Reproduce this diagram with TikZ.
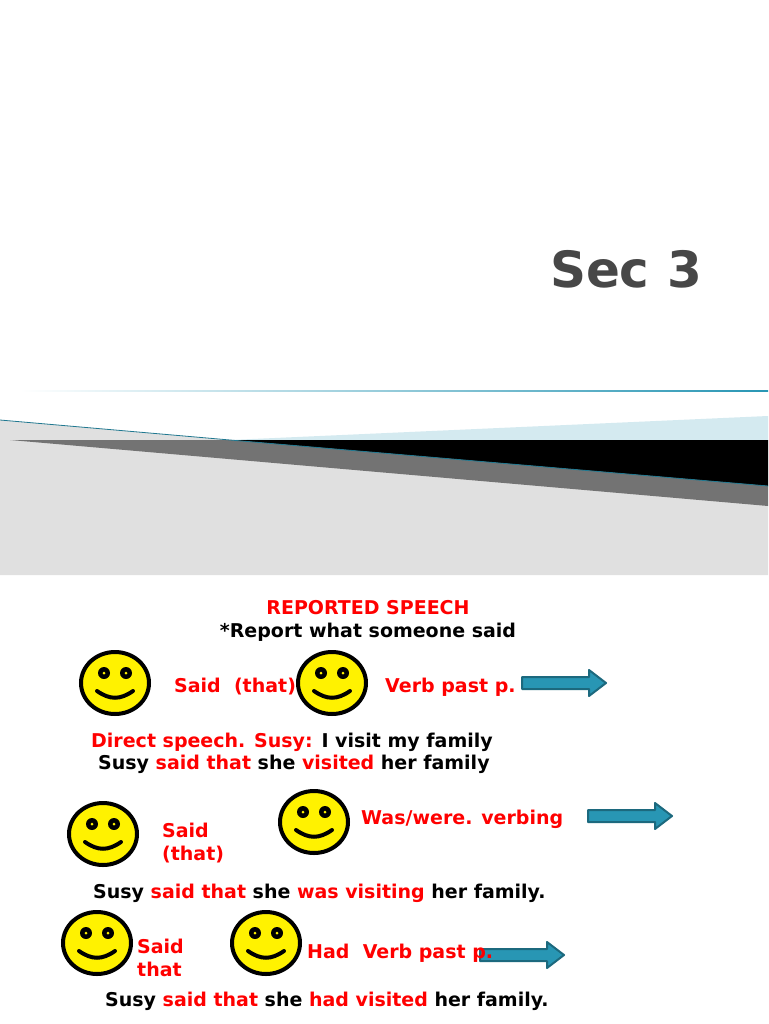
\documentclass[tikz,border=0pt]{standalone}
\usepackage{fontspec}
\setmainfont{DejaVu Sans}
\usetikzlibrary{shapes.geometric,calc}
\definecolor{rd}{RGB}{255,0,0}
\definecolor{teal1}{RGB}{40,150,180}
\definecolor{tex}{RGB}{224,224,224}
\begin{document}
\begin{tikzpicture}[x=1pt,y=-1pt,
  txt/.style={font=\bfseries\fontsize{19}{22}\selectfont,inner sep=0pt},
  arr/.style={draw=teal1!70!black,fill=teal1,line width=2pt,line join=round}]
\useasboundingbox (0,0) rectangle (768,1024);
\fill[white] (0,0) rectangle (768,1024);
\node[inner sep=0pt,font=\bfseries\fontsize{50}{55}\selectfont,text=black!72,anchor=base east] (title) at (702,287) {Sec 3};
% band
\shade[left color=white,right color=teal1] (20,390.5) rectangle (768,391.5);
\fill[tex] (0,420) -- (230,440) -- (768,440) -- (768,575) -- (0,575) -- cycle;
\fill[teal1!20] (230,440) -- (768,416) -- (768,440) -- cycle;
\fill[black] (230,440) -- (768,440) -- (768,486) -- cycle;
\fill[black!55] (10,440) -- (230,440) -- (768,486) -- (768,506) -- cycle;
\draw[teal1!80!black,line width=0.8pt] (0,420) -- (230,440) -- (768,486);
% smileys
\newcommand{\smiley}[4]{%
 \node[ellipse,draw=black,line width=4pt,fill=yellow,minimum width=#2pt,minimum height=#3pt,inner sep=0pt] (#4) at (#1) {};
 \fill[black] ($(#4)+(-11,-10)$) circle (6);
 \fill[black] ($(#4)+(11,-10)$) circle (6);
 \fill[yellow] ($(#4)+(-11,-10)$) circle (1.5);
 \fill[yellow] ($(#4)+(11,-10)$) circle (1.5);
 \draw[black,line width=4pt,line cap=round] ($(#4)+(-18,8)$) .. controls ($(#4)+(-5,17)$) and ($(#4)+(5,17)$) .. ($(#4)+(18,8)$);}
\newcommand{\barrow}[2]{%
 \coordinate (#2) at (#1);
 \draw[arr] ($(#2)+(-41,-6)$) -- ($(#2)+(26,-6)$) -- ($(#2)+(26,-13)$) -- ($(#2)+(43,0)$) -- ($(#2)+(26,13)$) -- ($(#2)+(26,6)$) -- ($(#2)+(-41,6)$) -- cycle;}
\smiley{115,683}{68}{62}{s1}
\smiley{332,683}{68}{62}{s2}
\smiley{103,834}{68}{62}{s3}
\smiley{314,822}{68}{62}{s4}
\smiley{97,943}{68}{62}{s5}
\smiley{266,943}{68}{62}{s6}
% arrows
\barrow{563,683}{a1}
\barrow{629,816}{a2}
\barrow{521,955}{a3}
% texts
\node[txt,text=rd] (h1) at (368,608) {REPORTED SPEECH};
\node[txt] (h2) at (368,632) {*Report what someone said};
\node[txt,text=rd,anchor=west] (t1) at (174,687) {Said\ \ (that)};
\node[txt,text=rd,anchor=west] (t2) at (385,687) {Verb past p.};
\node[txt,anchor=west] (t3) at (91,742) {\textcolor{rd}{Direct speech. Susy:} I visit my family};
\node[txt,anchor=west] (t4) at (98,764) {Susy \textcolor{rd}{said that} she \textcolor{rd}{visited} her family};
\node[txt,text=rd,anchor=west,align=left] (t5) at (162,843) {Said\\[1pt](that)};
\node[txt,text=rd,anchor=west] (t6) at (361,819) {Was/were. verbing};
\node[txt,anchor=west] (t7) at (93,893) {Susy \textcolor{rd}{said that} she \textcolor{rd}{was visiting} her family.};
\node[txt,text=rd,anchor=west,align=left] (t8) at (137,958) {Said\\[1pt]that};
\node[txt,text=rd,anchor=west] (t9) at (307,953) {Had\ \ Verb past p.};
\node[txt,anchor=west] (t10) at (105,1001) {Susy \textcolor{rd}{said that} she \textcolor{rd}{had visited} her family.};
\end{tikzpicture}
\end{document}
